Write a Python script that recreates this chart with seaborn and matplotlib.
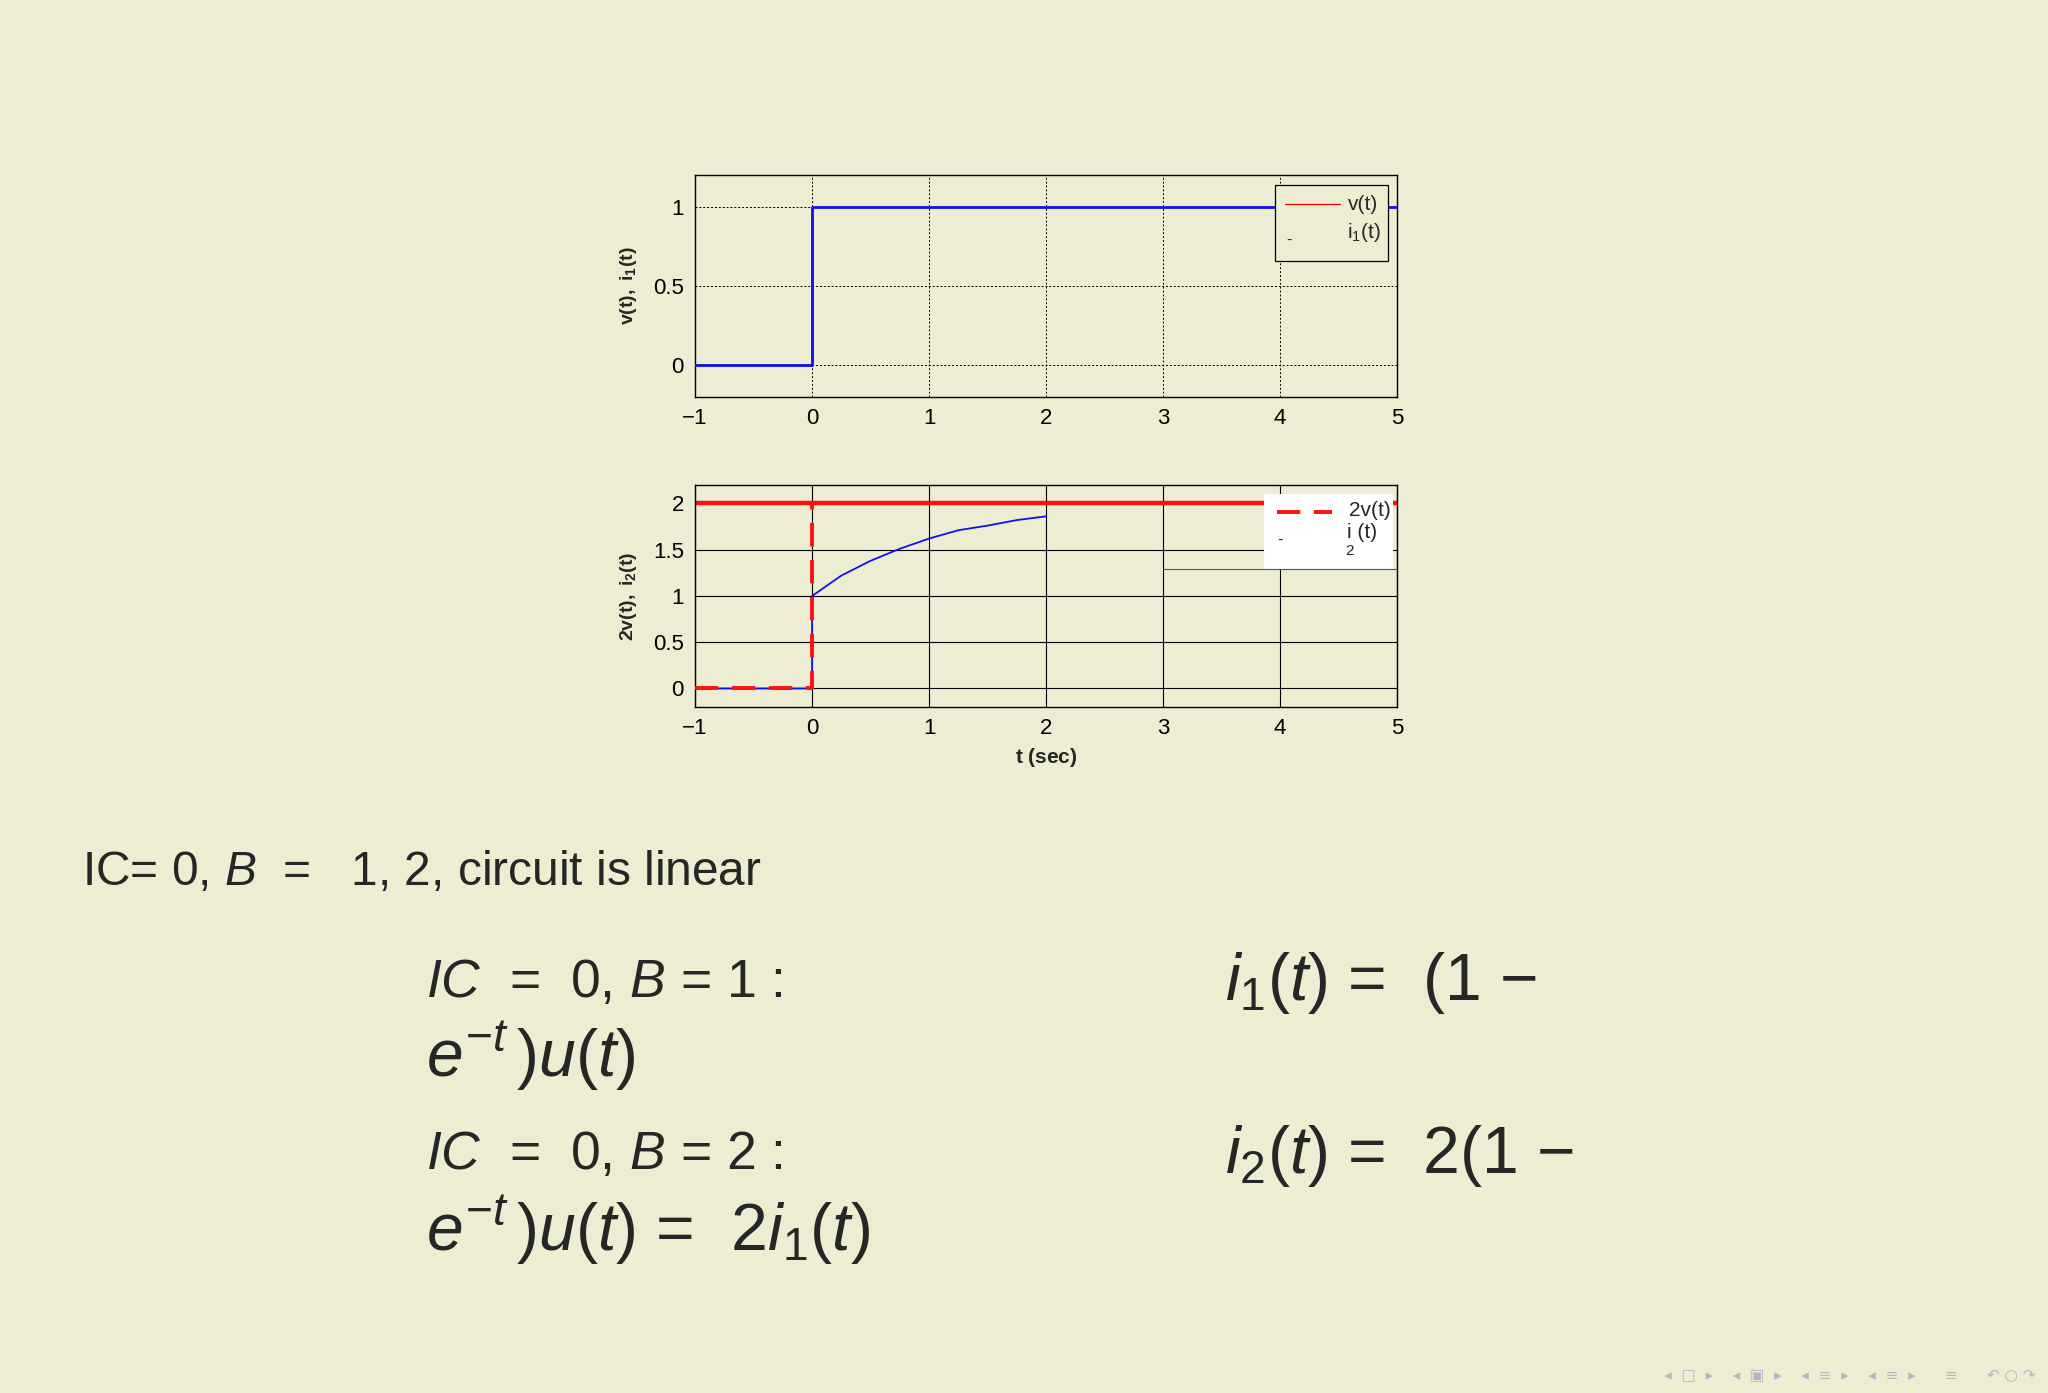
import numpy as np
import pandas as pd
import matplotlib
matplotlib.use("Agg")
import matplotlib.pyplot as plt
import seaborn as sns
from matplotlib.patches import Rectangle

# ---------------- data ----------------
t_step = [-1, 0, 0, 5]
v_vals = [0, 0, 1, 1]
i1_vals = [0, 0, 1, 1]

t_2v = [-1, 0, 0, 5]
v2_vals = [0, 0, 2, 2]
t_2v_solid = [-1, 5]
v2_solid = [2, 2]

t_i2 = [-1, 0, 0, 0.25, 0.5, 0.75, 1.0, 1.25, 1.5, 1.75, 2.0]
i2_vals = [0, 0, 1.0, 1.22, 1.38, 1.51, 1.62, 1.71, 1.76, 1.82, 1.86]

x_ticks = [-1, 0, 1, 2, 3, 4, 5]
y_ticks_top = [0, 0.5, 1]
y_ticks_bot = [0, 0.5, 1, 1.5, 2]

BG = "#EDEDD4"

sns.set_style("white")
plt.rcParams["font.family"] = ["Liberation Sans", "DejaVu Sans"]
plt.rcParams["mathtext.fontset"] = "custom"
plt.rcParams["mathtext.rm"] = "Liberation Sans"
plt.rcParams["mathtext.it"] = "Liberation Sans:italic"
plt.rcParams["mathtext.bf"] = "Liberation Sans:bold"
plt.rcParams["axes.unicode_minus"] = True

fig = plt.figure(figsize=(20.48, 13.93), dpi=100, facecolor=BG)

ax1 = fig.add_axes([0.3394, 0.715, 0.3428, 0.1594], facecolor=BG)
ax2 = fig.add_axes([0.3394, 0.4925, 0.3428, 0.1594], facecolor=BG)

# ---------------- top axes ----------------
df1 = pd.DataFrame({"t": t_step, "v": v_vals, "i1": i1_vals})
sns.lineplot(data=df1, x="t", y="v", ax=ax1, sort=False, estimator=None,
             color="red", lw=1.0, zorder=2)
sns.lineplot(data=df1, x="t", y="i1", ax=ax1, sort=False, estimator=None,
             color="#1010EE", lw=2.0, zorder=3)
ax1.set_xlim(-1, 5)
ax1.set_ylim(-0.2, 1.2)
ax1.set_xticks(x_ticks)
ax1.set_yticks(y_ticks_top)
ax1.set_yticklabels(["0", "0.5", "1"])
ax1.grid(True, color="black", ls=(0, (2, 2)), lw=0.7)
ax1.set_xlabel("")
ax1.set_ylabel(r"$\mathbf{v(t),\ i_1(t)}$", fontsize=14, labelpad=10)

# legend (manual)
ax1.add_patch(Rectangle((0.826, 0.613), 0.161, 0.342, transform=ax1.transAxes,
                        facecolor=BG, edgecolor="black", lw=0.9, zorder=5))
ax1.plot([0.840, 0.918], [0.869, 0.869], transform=ax1.transAxes,
         color="red", lw=0.9, zorder=6)
ax1.text(0.930, 0.866, "v(t)", transform=ax1.transAxes, fontsize=15,
         va="center", ha="left", zorder=6)
ax1.text(0.929, 0.743, r"i$_1$(t)", transform=ax1.transAxes, fontsize=15,
         va="center", ha="left", zorder=6)
ax1.text(0.846, 0.707, "-", transform=ax1.transAxes, fontsize=12,
         va="center", ha="center", zorder=6)

# ---------------- bottom axes ----------------
df2 = pd.DataFrame({"t": t_2v, "v2": v2_vals})
df2s = pd.DataFrame({"t": t_2v_solid, "v2": v2_solid})
df3 = pd.DataFrame({"t": t_i2, "i2": i2_vals})
sns.lineplot(data=df3, x="t", y="i2", ax=ax2, sort=False, estimator=None,
             color="#1010EE", lw=1.3, zorder=3)
sns.lineplot(data=df2s, x="t", y="v2", ax=ax2, sort=False, estimator=None,
             color="#FF1010", lw=3.2, zorder=2)
ax2.plot(df2["t"], df2["v2"], color="#FF1010", lw=2.8, dashes=(6, 3.5), zorder=4)
ax2.set_xlim(-1, 5)
ax2.set_ylim(-0.2, 2.2)
ax2.set_xticks(x_ticks)
ax2.set_yticks(y_ticks_bot)
ax2.set_yticklabels(["0", "0.5", "1", "1.5", "2"])
ax2.grid(True, color="black", ls="-", lw=0.8)
ax2.set_xlabel(r"$\mathbf{t\ (sec)}$", fontsize=15, labelpad=5)
ax2.set_ylabel(r"$\mathbf{2v(t),\ i_2(t)}$", fontsize=14, labelpad=10)

# legend (manual)
ax2.add_patch(Rectangle((0.811, 0.622), 0.183, 0.337, transform=ax2.transAxes,
                        facecolor="white", edgecolor="none", zorder=5,
                        clip_on=False))
ax2.plot([0.667, 1.0], [0.622, 0.622], transform=ax2.transAxes,
         color="#555555", lw=0.8, zorder=6)
ax2.plot([0.829, 0.907], [0.878, 0.878], transform=ax2.transAxes,
         color="#FF1010", lw=2.8, dashes=(6, 3.5), zorder=6)
ax2.text(0.932, 0.883, "2v(t)", transform=ax2.transAxes, fontsize=15,
         va="center", ha="left", zorder=6)
ax2.text(0.929, 0.784, "i (t)", transform=ax2.transAxes, fontsize=15,
         va="center", ha="left", zorder=6)
ax2.text(0.926, 0.703, "2", transform=ax2.transAxes, fontsize=11,
         va="center", ha="left", zorder=6)
ax2.text(0.833, 0.748, "-", transform=ax2.transAxes, fontsize=12,
         va="center", ha="center", zorder=6)

for ax in (ax1, ax2):
    for sp in ax.spines.values():
        sp.set_visible(True)
        sp.set_color("black")
        sp.set_linewidth(1.0)
    ax.tick_params(axis="both", labelsize=16, colors="black", direction="in",
                   length=4, width=0.8, pad=8)
    ax.set_axisbelow(True)

# ---------------- slide text ----------------
fig.text(0.040, 0.3647, r"IC= 0, $B$  =   1, 2, circuit is linear", fontsize=34.5,
         ha="left", va="baseline")
fig.text(0.208, 0.2846, r"$IC$  =  0, $B$ = 1 :", fontsize=38.5, ha="left", va="baseline")
fig.text(0.598, 0.282, r"$i_1(t)$ =  (1 $-$", fontsize=47.5, ha="left", va="baseline")
fig.text(0.208, 0.2266, r"$e^{-t}\,$)$u(t)$", fontsize=47.5, ha="left", va="baseline")
fig.text(0.208, 0.1609, r"$IC$  =  0, $B$ = 2 :", fontsize=38.5, ha="left", va="baseline")
fig.text(0.598, 0.158, r"$i_2(t)$ =  2(1 $-$", fontsize=47.5, ha="left", va="baseline")
fig.text(0.208, 0.1019, r"$e^{-t}\,$)$u(t)$ =  2$i_1(t)$", fontsize=47.5, ha="left", va="baseline")

# beamer navigation symbols
fig.text(0.994, 0.0135, "◂  □  ▸    ◂  ▣  ▸    ◂  ≡  ▸    ◂  ≡  ▸      ≡      ↶ ○ ↷",
         fontsize=11, color="#B4B4C4", ha="right", va="center",
         family=["DejaVu Sans"])

fig.savefig("out.png", dpi=100, facecolor=BG)
